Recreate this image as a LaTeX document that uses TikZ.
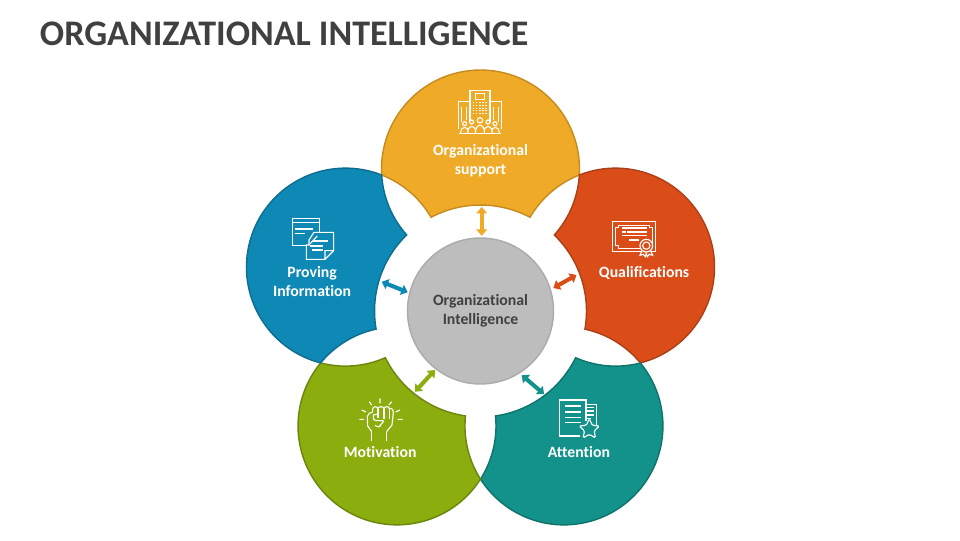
\documentclass[tikz,border=0pt]{standalone}
\usepackage{fontspec}
\setmainfont[Ligatures=NoCommon]{Carlito}
\usepackage{tikz}
\usetikzlibrary{arrows.meta}

\definecolor{titlegray}{HTML}{404040}
\definecolor{supportfill}{HTML}{EFAA27}
\definecolor{supportedge}{HTML}{C68B1E}
\definecolor{qualfill}{HTML}{DB4D18}
\definecolor{qualedge}{HTML}{AB3F17}
\definecolor{attnfill}{HTML}{12928A}
\definecolor{attnedge}{HTML}{0F736C}
\definecolor{motivfill}{HTML}{8BAD0E}
\definecolor{motivedge}{HTML}{6B850F}
\definecolor{provefill}{HTML}{0E89B5}
\definecolor{proveedge}{HTML}{0E6C8F}
\definecolor{hubfill}{HTML}{BDBDBD}
\definecolor{hubedge}{HTML}{ABABAB}

\newcommand{\petalpath}{(126:4.2025)
    arc[start angle=183.47, end angle=-3.47, radius=2.475]
    arc[start angle=111.5, end angle=149.8, radius=2.475]
    arc[start angle=62.15, end angle=117.85, radius=2.65]
    arc[start angle=30.2, end angle=68.5, radius=2.475] -- cycle}

\tikzset{
  petal/.style={draw, line width=1pt, line join=miter},
  label/.style={text=white, font=\bfseries\fontsize{11.2}{13.5}\selectfont, align=center},
  biarrow/.style={{Triangle[width=7.5pt,length=4.5pt]}-{Triangle[width=7.5pt,length=4.5pt]}, line width=2.9pt},
  icon/.style={white, line width=0.8pt},
  iconthick/.style={white, line width=1.2pt}
}

\begin{document}
\begin{tikzpicture}

    \useasboundingbox (-12.0125,-5.725) rectangle (11.9875,7.775);

    \node[anchor=base west, text=titlegray, font=\bfseries\fontsize{25.6}{30}\selectfont, inner sep=0pt] (title) at (-11.02,6.625) {ORGANIZATIONAL INTELLIGENCE};

    \draw[petal, fill=supportfill, draw=supportedge] \petalpath;
    \draw[petal, fill=qualfill, draw=qualedge, rotate=-72] \petalpath;
    \draw[petal, fill=attnfill, draw=attnedge, rotate=-144] \petalpath;
    \draw[petal, fill=motivfill, draw=motivedge, rotate=144] \petalpath;
    \draw[petal, fill=provefill, draw=proveedge, rotate=72] \petalpath;

    \node[circle, draw=hubedge, fill=hubfill, line width=1pt, minimum size=3.65cm, inner sep=0pt, text=titlegray, font=\bfseries\fontsize{11.2}{13.5}\selectfont, align=center] (hub) at (0,0) {Organizational\\Intelligence};

    \node[label] (support) at (0,3.76)      {Organizational\\support};
    \node[label] (qual)    at (4.09,0.945)  {Qualifications};
    \node[label] (prove)   at (-4.21,0.745) {Proving\\Information};
    \node[label] (motiv)   at (-2.51,-3.515) {Motivation};
    \node[label] (attn)    at (2.46,-3.515)  {Attention};

    \coordinate (supportin)  at (0.03,1.88);
    \coordinate (supportout) at (0.03,2.6);
    \coordinate (qualin)     at (1.82,0.575);
    \coordinate (qualout)    at (2.4,0.9);
    \coordinate (provein)    at (-1.82,0.47);
    \coordinate (proveout)   at (-2.47,0.73);
    \coordinate (motivin)    at (-1.14,-1.475);
    \coordinate (motivout)   at (-1.64,-2.02);
    \coordinate (attnin)     at (1.03,-1.6);
    \coordinate (attnout)    at (1.59,-2.08);

    \draw[biarrow, supportfill] (supportin) -- (supportout);
    \draw[biarrow, qualfill]    (qualin)    -- (qualout);
    \draw[biarrow, provefill]   (provein)   -- (proveout);
    \draw[biarrow, motivfill]   (motivin)   -- (motivout);
    \draw[biarrow, attnfill]    (attnin)    -- (attnout);

    % building
    \begin{scope}[shift={(-2.7625,6.275)}, x=0.00833cm, y=-0.00833cm]
      \draw[icon] (300,190) -- (300,92) -- (360,92) -- (360,190);
      \draw[icon] (316,100) rectangle (344,118);
      \foreach \yy in {128,136,144,152,160} {
        \draw[white, line width=0.6pt, dash pattern=on 1.2pt off 1pt] (308,\yy) -- (352,\yy);
      }
      \draw[icon] (268,205) -- (265,205) -- (265,125) -- (300,125);
      \draw[icon] (392,205) -- (395,205) -- (395,125) -- (360,125);
      \draw[icon] (275,140) -- (275,185) (289,140) -- (289,180);
      \draw[icon] (371,140) -- (371,180) (385,140) -- (385,185);
      \draw[icon] (268,220) -- (392,220);
      \draw[icon, fill=supportfill] (272,220) .. controls (272,196) and (296,196) .. (296,220);
      \draw[icon, fill=supportfill] (364,220) .. controls (364,196) and (388,196) .. (388,220);
      \draw[icon, fill=supportfill] (293,220) .. controls (293,192) and (318,192) .. (318,220);
      \draw[icon, fill=supportfill] (342,220) .. controls (342,192) and (367,192) .. (367,220);
      \draw[icon, fill=supportfill] (316,220) .. controls (316,188) and (344,188) .. (344,220);
      \draw[icon, fill=supportfill] (284,191) circle[radius=6];
      \draw[icon, fill=supportfill] (305,186) circle[radius=6];
      \draw[icon, fill=supportfill] (330,181) circle[radius=8];
      \draw[icon, fill=supportfill] (354,186) circle[radius=6];
      \draw[icon, fill=supportfill] (375,191) circle[radius=6];
    \end{scope}

    % certificate
    \begin{scope}[shift={(1.4875,3.775)}, x=0.00833cm, y=-0.00833cm]
      \draw[icon] (217,185) rectangle (347,275);
      \draw[icon, line width=0.5pt] (235,195) -- (329,195) -- (329,203) -- (337,203) -- (337,255) -- (329,255) -- (329,264) -- (235,264) -- (235,255) -- (227,255) -- (227,203) -- (235,203) -- cycle;
      \draw[iconthick] (245,205) -- (322,205) (262,216) -- (322,216) (245,227) -- (322,227);
      \draw[icon] (245,216) -- (258,216) (267,240) -- (297,240);
      \draw[icon, fill=qualfill] (306,272) -- (300,286) -- (310,283) -- (316,290) -- (322,272);
      \draw[icon, fill=qualfill] (316,272) -- (322,290) -- (328,283) -- (338,286) -- (332,272);
      \draw[icon, fill=qualfill] (319,257) circle[radius=19];
      \draw[icon] (319,257) circle[radius=11];
    \end{scope}

    % notes
    \begin{scope}[shift={(-6.0125,3.775)}, x=0.00833cm, y=-0.00833cm]
      \draw[icon] (157,175) rectangle (238,257);
      \draw[icon] (157,188) -- (238,188);
      \draw[iconthick] (165,207) -- (218,207) (165,221) -- (195,221);
      \draw[icon, fill=provefill] (222,217) -- (281,217) -- (281,272) -- (255,298) -- (199,298) -- (199,255) -- (207,255) -- (207,240) -- cycle;
      \draw[icon] (207,255) -- (232,228) (281,272) -- (255,272) -- (255,298);
      \draw[icon] (218,243) -- (265,243) (210,258) -- (250,258) (215,270) -- (248,270);
    \end{scope}

    % fist
    \begin{scope}[shift={(-4.7625,-0.975)}, x=0.00833cm, y=-0.00833cm]
      \draw[icon] (270,145) -- (270,160) (238,155) -- (245,165) (305,155) -- (297,165);
      \draw[icon] (215,180) -- (228,186) (330,180) -- (317,186) (208,208) -- (222,208) (323,208) -- (338,208);
      \draw[icon] (245,245) -- (245,272) (290,245) -- (290,272);
      \draw[icon] (245,245) -- (233,228) -- (232,200) .. controls (233,192) and (240,187) .. (248,186) -- (248,178) .. controls (248,168) and (262,168) .. (264,176) .. controls (266,168) and (280,168) .. (282,176) .. controls (284,168) and (298,168) .. (298,176) .. controls (306,172) and (310,180) .. (310,190) -- (306,225) -- (290,245);
      \draw[icon] (264,176) -- (264,205) (282,176) -- (282,208) (298,176) -- (298,208);
      \draw[icon, rounded corners=2pt] (250,195) -- (250,212) -- (285,212) -- (272,222) -- (268,234) -- (255,226) (250,195) -- (264,192);
    \end{scope}

    % document with star
    \begin{scope}[shift={(-0.2625,-0.975)}, x=0.00833cm, y=-0.00833cm]
      \draw[icon] (348,163) -- (380,163) -- (380,225);
      \draw[icon] (350,173) -- (372,173) (350,183) -- (372,183) (350,195) -- (372,195) (350,205) -- (362,205);
      \draw[icon] (330,258) -- (268,258) -- (268,150) -- (348,150) -- (348,212);
      \draw[icon] (285,168) -- (332,168) (285,186) -- (332,186) (285,202) -- (332,202) (285,218) -- (332,218);
      \draw[icon, fill=attnfill, rounded corners=1pt] (358,206) -- (366.8,225.9) -- (388.4,228.1) -- (372.3,242.6) -- (376.8,263.9) -- (358,253) -- (339.2,263.9) -- (343.7,242.6) -- (327.6,228.1) -- (349.2,225.9) -- cycle;
    \end{scope}

\end{tikzpicture}
\end{document}
